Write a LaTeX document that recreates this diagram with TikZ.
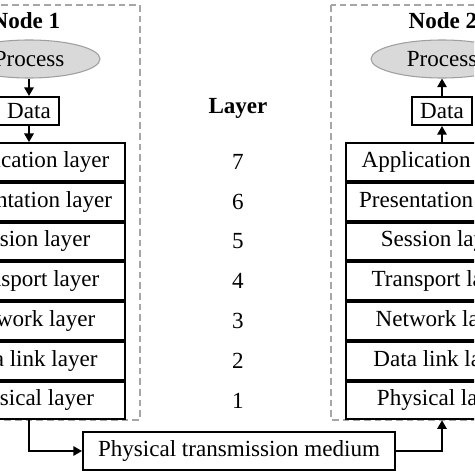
\documentclass[tikz,border=0pt]{standalone}
\usepackage{fontspec}
\setmainfont{Liberation Serif}
\usetikzlibrary{positioning,arrows.meta,shapes.geometric}

\begin{document}
\begin{tikzpicture}
  [x=0.75pt, y=-0.75pt, font=\fontsize{17.3}{20}\selectfont,
   layerbox/.style={draw, line width=1.5pt, minimum width=144pt, minimum height=28.3pt, inner sep=0pt},
   databox/.style={draw, line width=1.5pt, minimum width=45pt, minimum height=21pt, inner sep=0pt},
   procnode/.style={ellipse, draw=gray!75, fill=gray!30, line width=0.8pt, minimum width=106.5pt, minimum height=28.5pt, inner sep=0pt},
   nodeframe/.style={draw=gray!70, line width=1.1pt, dash pattern=on 5pt off 3pt},
   heading/.style={font=\fontsize{17.3}{20}\selectfont\bfseries},
   link/.style={line width=1.5pt, -{Triangle[length=6.5pt,width=7pt]}}]
  \clip (0,0) rectangle (474,474);
  % the two hosts
  \draw[nodeframe] (-82,5) rectangle (140,420);
  \draw[nodeframe] (331,5) rectangle (553,420);
  \node[heading] (title1) at (26,21) {Node 1};
  \node[heading] (title2) at (443,21) {Node 2};
  \node[procnode] (P1) at (29,59) {Process};
  \node[procnode] (P2) at (442,59) {Process};
  \node[databox] (D1) at (29,111) {Data};
  \node[databox] (D2) at (442,111) {Data};
  % left stack
  \node[layerbox] (L7) at (29,162) {Application layer};
  \node[layerbox, below=0pt of L7] (L6) {Presentation layer};
  \node[layerbox, below=0pt of L6] (L5) {Session layer};
  \node[layerbox, below=0pt of L5] (L4) {Transport layer};
  \node[layerbox, below=0pt of L4] (L3) {Network layer};
  \node[layerbox, below=0pt of L3] (L2) {Data link layer};
  \node[layerbox, below=0pt of L2] (L1) {Physical layer};
  % right stack
  \node[layerbox] (R7) at (442,162) {Application layer};
  \node[layerbox, below=0pt of R7] (R6) {Presentation layer};
  \node[layerbox, below=0pt of R6] (R5) {Session layer};
  \node[layerbox, below=0pt of R5] (R4) {Transport layer};
  \node[layerbox, below=0pt of R4] (R3) {Network layer};
  \node[layerbox, below=0pt of R3] (R2) {Data link layer};
  \node[layerbox, below=0pt of R2] (R1) {Physical layer};
  % layer numbers
  \node[heading] (head) at (238,108) {Layer};
  \node (n7) at (238,0 |- L7) {7};
  \node (n6) at (238,0 |- L6) {6};
  \node (n5) at (238,0 |- L5) {5};
  \node (n4) at (238,0 |- L4) {4};
  \node (n3) at (238,0 |- L3) {3};
  \node (n2) at (238,0 |- L2) {2};
  \node (n1) at (238,0 |- L1) {1};
  \node[draw, line width=1.5pt, minimum width=234pt, minimum height=27.8pt] (med) at (239,451) {Physical transmission medium};
  % flow of data
  \draw[link] (P1) -- (D1);
  \draw[link] (D1) -- (D1 |- L7.north);
  \draw[link] (L1.south -| D1) |- (med);
  \draw[link] (med) -| (D2 |- R1.south);
  \draw[link] (R7.north -| D2) -- (D2);
  \draw[link] (D2) -- (P2);
\end{tikzpicture}
\end{document}
